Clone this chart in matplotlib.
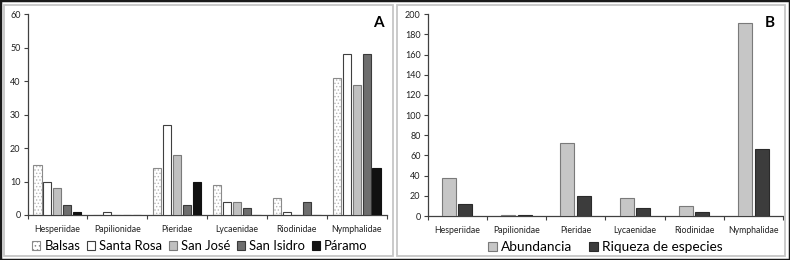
import matplotlib
matplotlib.use("Agg")
import matplotlib.pyplot as plt
import numpy as np
from matplotlib.patches import Rectangle, Patch

plt.rcParams['font.family'] = ['Lato', 'DejaVu Sans']
plt.rcParams['hatch.linewidth'] = 0.6

families = ["Hesperiidae", "Papilionidae", "Pieridae", "Lycaenidae", "Riodinidae", "Nymphalidae"]
sites = ["Balsas", "Santa Rosa", "San José", "San Isidro", "Páramo"]
balsas = [15, 0, 14, 9, 5, 41]
santa_rosa = [10, 1, 27, 4, 1, 48]
san_jose = [8, 0, 18, 4, 0, 39]
san_isidro = [3, 0, 3, 2, 4, 48]
paramo = [1, 0, 10, 0, 0, 14]
abundancia = [38, 1, 72, 18, 10, 191]
riqueza = [12, 1, 20, 8, 4, 66]
yticks_a = [0, 10, 20, 30, 40, 50, 60]
yticks_b = [0, 20, 40, 60, 80, 100, 120, 140, 160, 180, 200]

W, H = 790, 260
fig = plt.figure(figsize=(W / 100, H / 100), dpi=100)
fig.patch.set_facecolor('white')

def px(x0, y_top, x1, y_bot):
    return [x0 / W, 1 - y_bot / H, (x1 - x0) / W, (y_bot - y_top) / H]

# panel frames
for (x0, x1) in [(3.5, 393), (396.5, 784.5)]:
    fig.patches.append(Rectangle((x0 / W, 4.5 / H), (x1 - x0) / W, (255.5 - 4.5) / H,
                                 transform=fig.transFigure, fill=False,
                                 edgecolor='#c6c6c6', linewidth=1.3))
fig.patches.append(Rectangle((0, 0), 1, 1, transform=fig.transFigure, fill=False,
                             edgecolor='#1a1a1a', linewidth=2.5))

def style_axes(ax, yticks):
    ax.set_facecolor('none')
    for s in ['top', 'right']:
        ax.spines[s].set_visible(False)
    for s in ['left', 'bottom']:
        ax.spines[s].set_color('#404040')
        ax.spines[s].set_linewidth(0.9)
    x = np.arange(len(families))
    ax.set_xlim(-0.5, len(families) - 0.5)
    ax.set_xticks(x)
    ax.set_xticklabels(families, fontsize=6.3, color='#222222')
    ax.set_xticks(np.arange(-0.5, len(families) + 0.5, 1), minor=True)
    ax.tick_params(axis='x', which='major', length=0, pad=7.5)
    ax.tick_params(axis='x', which='minor', length=3, width=0.8, color='#404040', direction='out')
    ax.set_yticks(yticks)
    ax.set_ylim(yticks[0], yticks[-1])
    ax.tick_params(axis='y', length=3, width=0.8, color='#404040', labelsize=6.5,
                   labelcolor='#222222', pad=2)

# ---- Panel A ----
axA = fig.add_axes(px(27.5, 14.3, 386.5, 215))
x = np.arange(len(families))
series = [balsas, santa_rosa, san_jose, san_isidro, paramo]
faces = ['white', 'white', '#c0c0c0', '#6e6e6e', '#111111']
edges = ['#8a8a8a', '#404040', '#7a7a7a', '#3a3a3a', '#111111']
bw = 0.135
handles = []
for i, (vals, fc, ec) in enumerate(zip(series, faces, edges)):
    xi = x + (i - 2) / 6.0
    if i == 0:
        axA.bar(xi, vals, width=bw, color='white', edgecolor='#b8b8b8', hatch='.....',
                linewidth=0, zorder=2)
        axA.bar(xi, vals, width=bw, fill=False, edgecolor=ec, linewidth=0.8, zorder=3)
        handles.append(Patch(facecolor='white', edgecolor=ec, hatch='....', linewidth=0.8))
    else:
        axA.bar(xi, vals, width=bw, color=fc, edgecolor=ec, linewidth=0.8, zorder=3)
        handles.append(Patch(facecolor=fc, edgecolor=ec, linewidth=0.8))
style_axes(axA, yticks_a)
axA.legend(handles, sites, loc='upper center', bbox_to_anchor=(0.48, -0.125), ncol=5,
           frameon=False, fontsize=9.4, handlelength=0.65, handleheight=0.65,
           handletextpad=0.3, columnspacing=0.5, borderpad=0, borderaxespad=0)
fig.text(384 / W, 1 - 16 / H, "A", fontsize=11, fontweight='bold', ha='right', va='top')

# ---- Panel B ----
axB = fig.add_axes(px(427.5, 14.3, 783, 216))
bwB = 0.235
axB.bar(x - 0.14, abundancia, width=bwB, color='#c6c6c6', edgecolor='#7a7a7a',
        linewidth=0.8, zorder=3, label='Abundancia')
axB.bar(x + 0.14, riqueza, width=bwB, color='#3c3c3c', edgecolor='#2a2a2a',
        linewidth=0.8, zorder=3, label='Riqueza de especies')
style_axes(axB, yticks_b)
axB.legend(loc='upper center', bbox_to_anchor=(0.5, -0.125), ncol=2,
           frameon=False, fontsize=9.8, handlelength=0.65, handleheight=0.65,
           handletextpad=0.3, columnspacing=1.2, borderpad=0, borderaxespad=0)
fig.text(775 / W, 1 - 16 / H, "B", fontsize=11, fontweight='bold', ha='right', va='top')

fig.savefig("out.png", dpi=100, facecolor='white')
